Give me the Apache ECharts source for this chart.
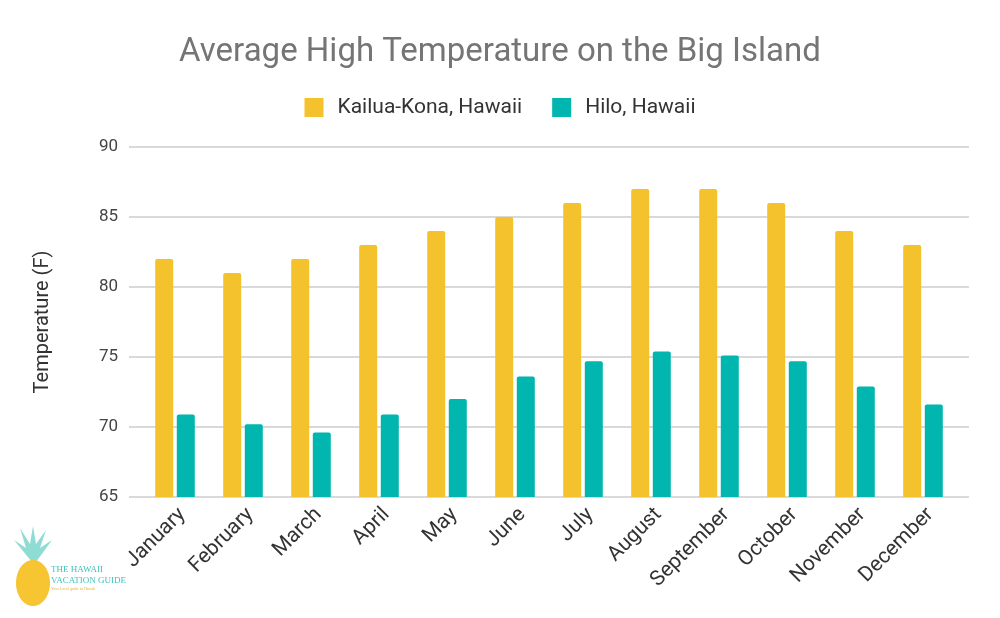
<!DOCTYPE html>
<html>
<head>
<meta charset="utf-8">
<script src="https://cdn.jsdelivr.net/npm/echarts@6/dist/echarts.min.js"></script>
<style>
html,body{margin:0;padding:0;background:#fff;}
#chart{width:1000px;height:618px;}
</style>
</head>
<body>
<div id="chart"></div>
<script>
var months = ['January','February','March','April','May','June','July','August','September','October','November','December'];
var konaValues = [82, 81, 82, 83, 84, 85, 86, 87, 87, 86, 84, 83];
var hiloValues = [70.9, 70.2, 69.6, 70.9, 72.0, 73.6, 74.7, 75.4, 75.1, 74.7, 72.9, 71.6];
var seriesNames = ['Kailua-Kona, Hawaii', 'Hilo, Hawaii'];
var yTicks = [65, 70, 75, 80, 85, 90];

var chart = echarts.init(document.getElementById('chart'));
var font = 'Roboto, Arial, sans-serif';
var yMin = yTicks[0], yMax = yTicks[yTicks.length - 1];
var option = {
  backgroundColor: '#ffffff',
  animation: false,
  title: {
    text: 'Average High Temperature on the Big Island',
    left: 'center', top: 31,
    textStyle: {fontFamily: font, fontSize: 33, fontWeight: 'normal', color: '#757575'}
  },
  legend: {
    top: 92, left: 'center',
    itemWidth: 19, itemHeight: 19, itemGap: 30,
    icon: 'rect',
    textStyle: {fontFamily: font, fontSize: 21, color: '#333', padding: [0, 0, 0, 9]},
    data: seriesNames
  },
  grid: [
    {left: 129, right: 31, top: 147, bottom: 121},
    {left: 141, right: 43, top: 147, bottom: 121}
  ],
  xAxis: [
    {type: 'category', gridIndex: 0, data: months, show: false},
    {
      type: 'category', gridIndex: 1,
      data: months,
      axisLine: {show: false},
      axisTick: {show: false},
      axisLabel: {rotate: 45, fontFamily: font, fontSize: 21, color: '#333', margin: 7, interval: 0, verticalAlign: 'top'}
    }
  ],
  yAxis: [
    {
      type: 'value', gridIndex: 0,
      min: yMin, max: yMax, interval: 5,
      name: 'Temperature (F)',
      nameLocation: 'middle', nameGap: 76,
      nameTextStyle: {fontFamily: font, fontSize: 20, color: '#333'},
      axisLine: {show: false},
      axisTick: {show: false},
      axisLabel: {fontFamily: font, fontSize: 17, color: '#444', margin: 11},
      splitLine: {lineStyle: {color: '#cccccc', width: 1.5}}
    },
    {
      type: 'value', gridIndex: 1,
      min: yMin, max: yMax, interval: 5,
      show: false,
      splitLine: {show: false}
    }
  ],
  series: [
    {
      name: seriesNames[0], type: 'bar', data: konaValues,
      xAxisIndex: 1, yAxisIndex: 1,
      barWidth: 18, barGap: '20%',
      itemStyle: {color: '#f4c22c', borderRadius: [2, 2, 0, 0]}
    },
    {
      name: seriesNames[1], type: 'bar', data: hiloValues,
      xAxisIndex: 1, yAxisIndex: 1,
      barWidth: 18,
      itemStyle: {color: '#00b6ae', borderRadius: [2, 2, 0, 0]}
    }
  ],
  graphic: [
    {type: 'group', left: 14, top: 526, children: [
      {type: 'polygon', shape: {points: [[20,36],[2,14],[14,22],[8,2],[18,18],[21,0],[24,18],[34,4],[28,22],[40,14],[24,36]]}, style: {fill: '#8fdcd5'}},
      {type: 'ellipse', shape: {cx: 21, cy: 57, rx: 17, ry: 23}, style: {fill: '#f7c531'}},
      {type: 'text', left: 39, top: 39, style: {text: 'THE HAWAII', fill: '#3cc3bb', font: '9px "Liberation Serif", serif'}},
      {type: 'text', left: 39, top: 50, style: {text: 'VACATION GUIDE', fill: '#3cc3bb', font: '9px "Liberation Serif", serif'}},
      {type: 'text', left: 39, top: 61, style: {text: 'Your Local guide to Hawaii', fill: '#f0b030', font: '4px serif'}}
    ]}
  ]
};
chart.setOption(option);
</script>
</body>
</html>
